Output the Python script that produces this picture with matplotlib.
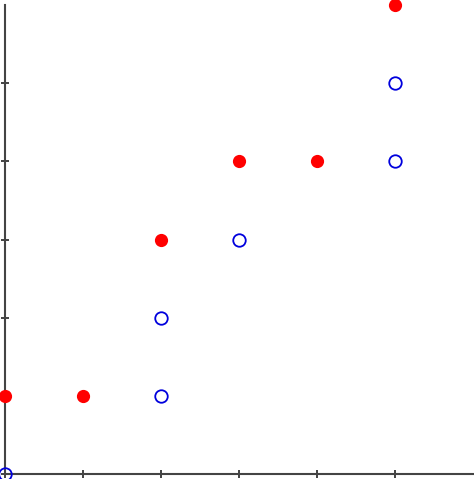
import matplotlib
matplotlib.use("Agg")
import matplotlib.pyplot as plt

red_x = [0, 1, 2, 3, 4, 5]
red_y = [1, 1, 3, 4, 4, 6]
blue_x = [0, 2, 2, 3, 5, 5]
blue_y = [0, 1, 2, 3, 4, 5]
xticks = [0, 1, 2, 3, 4, 5]
yticks = [0, 1, 2, 3, 4, 5]

W, H = 474, 479
fig = plt.figure(figsize=(W / 100, H / 100), dpi=100)
ax = fig.add_axes([5 / W, 5 / H, 468 / W, 469 / H])
ax.set_xlim(0, 6)
ax.set_ylim(0, 6)

ax.plot(red_x, red_y, 'o', color='#ff0000', markersize=9.5, markeredgewidth=0,
        clip_on=False, zorder=3)
ax.plot(blue_x, blue_y, 'o', markerfacecolor='none', markeredgecolor='#0000dd',
        markersize=9, markeredgewidth=1.3, clip_on=False, zorder=3)

for s in ['top', 'right']:
    ax.spines[s].set_visible(False)
for s in ['left', 'bottom']:
    ax.spines[s].set_color('#444444')
    ax.spines[s].set_linewidth(1.5)

ax.set_xticks(xticks)
ax.set_yticks(yticks)
ax.tick_params(direction='inout', length=5.5, width=1.2, color='#222222',
               labelbottom=False, labelleft=False)

fig.savefig('out.png', dpi=100)
